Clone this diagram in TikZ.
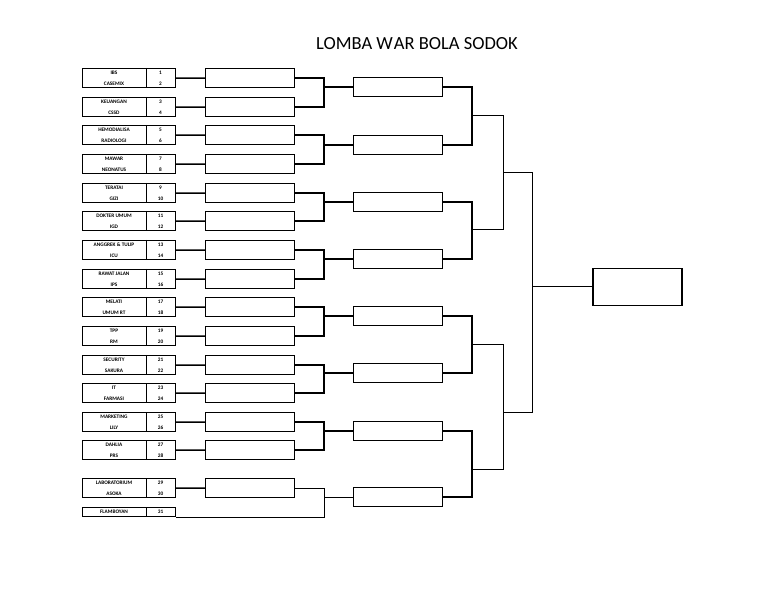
\documentclass[tikz,border=0pt]{standalone}
\usepackage{fontspec}
\setmainfont{Carlito}
\begin{document}
\begin{tikzpicture}[x=1pt,y=-1pt,
  box/.style={draw,line width=1.4pt,rectangle,minimum width=89pt,minimum height=19pt,inner sep=0,anchor=north west},
  team/.style={draw,line width=1.1pt,rectangle,minimum width=93pt,minimum height=19pt,inner sep=0,anchor=north west},
  lbl/.style={font=\bfseries\fontsize{5.3}{6}\selectfont,inner sep=0,text height=3.6pt,text depth=0pt},
  con/.style={line width=1pt},
  thk/.style={line width=1.5pt}]
\useasboundingbox (0,0) rectangle (768,593);
\node[font=\fontsize{18.5}{20}\selectfont] (title) at (417,44) {LOMBA W\kern1pt AR BOLA SODOK};
% teams
\def\tops{68,97,125,154,183,211,240,269,297,326,355,383,412,440,478}
\foreach \t [count=\i] in \tops {
  \node[team] (t\i) at (82,\t) {};
  \draw[line width=1pt] (146,\t) -- ++(0,19);
  \node[box] (r\i) at (205,\t) {};
  \draw[thk] (t\i.east) -- (r\i.west);
}
\foreach \i/\a/\b [evaluate=\i as \n using {int(2*\i-1)}, evaluate=\i as \m using {int(2*\i)}] in
 {1/IBS/CASEMIX,2/KEUANGAN/CSSD,3/HEMODIALISA/RADIOLOGI,4/MAWAR/NEONATUS,5/TERATAI/GIZI,
  6/DOKTER UMUM/IGD,7/ANGGREK \& TULIP/ICU,8/RAWAT JALAN/IPS,9/MELATI/UMUM RT,10/TPP/RM,
  11/SECURITY/SAKURA,12/IT/FARMASI,13/MARKETING/LILY,14/DAHLIA/PRS,15/LABORATORIUM/ASOKA} {
  \node[lbl] at ([xshift=32pt,yshift=-4.8pt]t\i.north west) {\a};
  \node[lbl] at ([xshift=32pt,yshift=4.8pt]t\i.south west) {\b};
  \node[lbl] at ([xshift=78.5pt,yshift=-4.8pt]t\i.north west) {\n};
  \node[lbl] at ([xshift=78.5pt,yshift=4.8pt]t\i.south west) {\m};
}
\node[team,minimum height=9pt] (t16) at (82,507) {};
\draw[line width=1pt] (146,507) -- ++(0,9);
\node[lbl] at (114,511.5) {FLAMBOYAN};
\node[lbl] at (160.5,511.5) {31};
% round 2 boxes
\coordinate (ja) at (324,0);
\def\rc{87,145,202,259,316,373,431,497}
\foreach \c [count=\j] in \rc {
  \node[box,anchor=west] (s\j) at (353,\c) {};
}
\foreach \j [evaluate=\j as \p using {int(2*\j-1)}, evaluate=\j as \q using {int(2*\j)}] in {1,...,7} {
  \draw[thk] (r\p.east) -| (ja |- s\j.west) (r\q.east) -| (ja |- s\j.west);
  \draw[thk] (ja |- s\j.west) -- (s\j.west);
}
\draw[con] (r15.east) -| (ja |- s8.west) -- (s8.west);
\draw[con] (t16.south east) -| (ja |- s8.west);
% round 3
\coordinate (xc) at (532,0);
\foreach \k/\p/\q/\y in {1/1/2/116,2/3/4/230,3/5/6/345,4/7/8/469} {
  \coordinate (m\k) at (472,\y);
  \draw[thk] (s\p.east) -| (m\k) (s\q.east) -| (m\k);
}
\coordinate (n1) at (503,173); \coordinate (n2) at (503,412);
\draw[con] (m1) -| (n1) (m2) -| (n1);
\draw[con] (m3) -| (n2) (m4) -| (n2);
\node[draw,line width=1.5pt,minimum width=89pt,minimum height=37pt,inner sep=0,anchor=west] (fin) at (592,287) {};
\draw[con] (n1) -| (xc |- fin.west) (n2) -| (xc |- fin.west) -- (fin.west);
\end{tikzpicture}
\end{document}
